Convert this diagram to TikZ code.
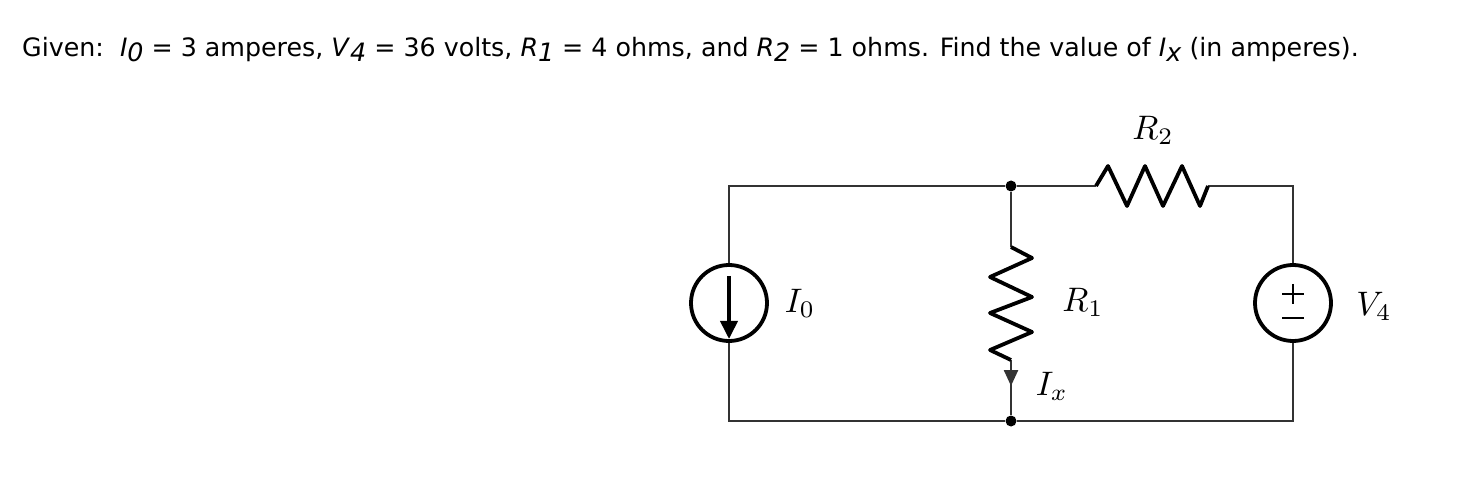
\documentclass[tikz,border=0pt]{standalone}
\usepackage{fontspec}
\newfontfamily\titlefont{DejaVu Sans}
\usetikzlibrary{arrows.meta}
\newcommand{\biglab}[1]{\scalebox{3.4}{$#1$}}
\begin{document}
\begin{tikzpicture}[x=1pt,y=-1pt,
  wire/.style={line width=2.4pt,black!80},
  comp/.style={line width=3.8pt,line join=round},
  lab/.style={inner sep=0pt},
  dot/.style={circle,fill,inner sep=0pt,minimum size=11pt}]
\useasboundingbox (0,0) rectangle (1478,486);
\node[anchor=base west,inner sep=0pt,font=\titlefont\fontsize{25.3}{30}\selectfont] (title) at (22,57)
 {Given:\ \ \textit{I}\raisebox{-5pt}{\textit{0}} = 3 amperes, \textit{V}\raisebox{-5pt}{\textit{4}} = 36 volts, \textit{R}\raisebox{-5pt}{\textit{1}} = 4 ohms, and \textit{R}\raisebox{-5pt}{\textit{2}} = 1 ohms. Find the value of \textit{I}\raisebox{-5pt}{\textit{x}} (in amperes).};
% nodes
\coordinate (tl) at (729,186); \coordinate (bl) at (729,421);
\node[dot] (tm) at (1011,186) {}; \node[dot] (bm) at (1011,421) {};
\coordinate (tr) at (1293,186); \coordinate (br) at (1293,421);
\node[circle,draw,comp,minimum size=76pt,inner sep=0pt] (I0) at (729,303) {};
\node[circle,draw,comp,minimum size=76pt,inner sep=0pt] (V4) at (1293,303) {};
\coordinate (r1a) at (1011,247); \coordinate (r1b) at (1011,360);
\coordinate (r2a) at (1096,186); \coordinate (r2b) at (1208,186);
% wires
\draw[wire] (I0.north) -- (tl) -- (tm) -- (r2a);
\draw[wire] (r2b) -- (tr) -- (V4.north);
\draw[wire] (I0.south) -- (bl) -- (bm) -- (br) -- (V4.south);
\draw[wire] (tm) -- (r1a); \draw[wire] (r1b) -- (bm);
% resistors
\draw[comp] (r1a) -- (1032,258) -- (990,277) -- (1032,297) -- (990,313) -- (1032,332) -- (990,350) -- (r1b);
\draw[comp] (r2a) -- (1108,166) -- (1127,206) -- (1145,166) -- (1163,206) -- (1182,166) -- (1200,206) -- (r2b);
% arrows/signs
\draw[line width=3.8pt,-{Triangle[length=18pt,width=17pt]}] (729,276) -- (729,339);
\draw[wire,-{Triangle[length=16pt,width=14pt]}] (1011,362) -- (1011,386);
\draw[line width=1.2pt] (1293,284) -- (1293,304) (1282,294) -- (1304,294) (1282,318) -- (1304,318);
% labels
\node[lab] (lI0) at (800,303) {\biglab{I_0}};
\node[lab] (lR1) at (1083,302) {\biglab{R_1}};
\node[lab] (lIx) at (1052,386) {\biglab{I_x}};
\node[lab] (lR2) at (1153,130) {\biglab{R_2}};
\node[lab] (lV4) at (1374,306) {\biglab{V_4}};
\end{tikzpicture}
\end{document}
